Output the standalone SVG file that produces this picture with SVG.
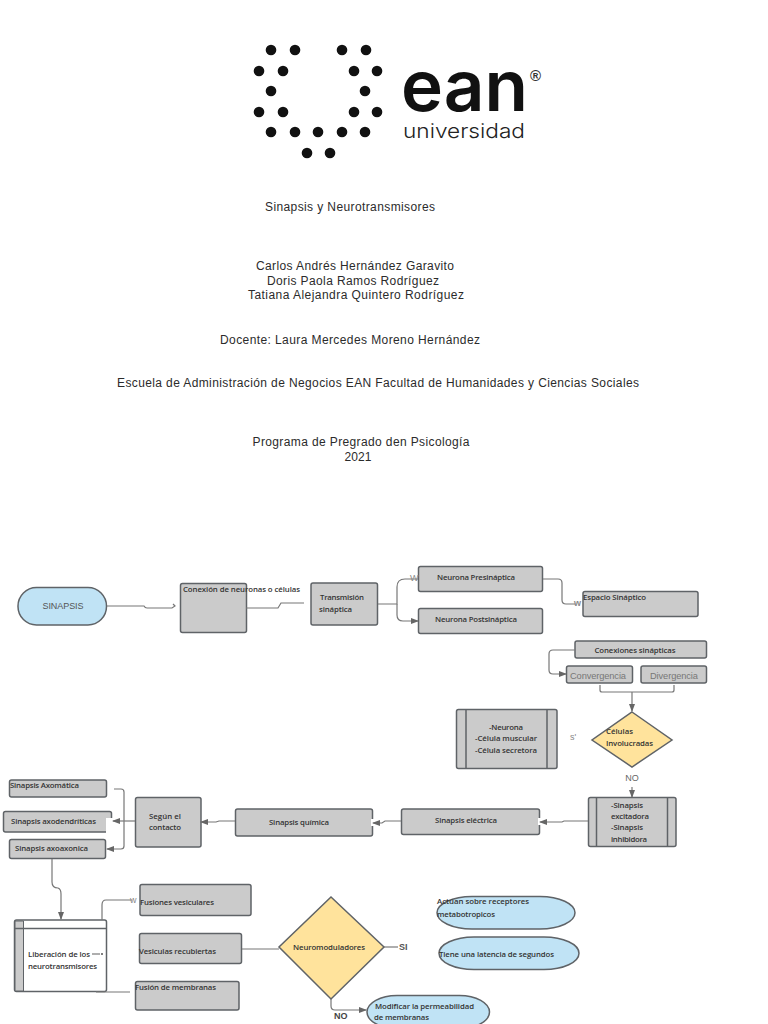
<svg xmlns="http://www.w3.org/2000/svg" width="768" height="1024" viewBox="0 0 768 1024">
<style>
text{font-family:"Liberation Sans",Arial,sans-serif}
.t{font-size:12px;fill:#2b2b2b;text-anchor:middle}
.l{font-size:7.800px;font-weight:600;fill:#333;font-family:"Open Sans","Liberation Sans",sans-serif}
.m{text-anchor:middle}
.n{fill:#cbcbcb;stroke:#5f6367;stroke-width:1.5}
.b{fill:#c0e3f5;stroke:#5f6367;stroke-width:1.5}
.y{fill:#ffe39c;stroke:#5f6367;stroke-width:1.5}
.w{fill:#fff;stroke:#5f6367;stroke-width:1.5}
.i{fill:none;stroke:#5f6367;stroke-width:1.5}
.c{fill:none;stroke:#777;stroke-width:1.2}
.f{font-size:9px;fill:#888}
</style>
<defs>
<marker id="a" markerWidth="8" markerHeight="6" refX="7" refY="3" orient="auto" markerUnits="userSpaceOnUse"><path d="M0 0L8 3L0 6Z" fill="#666"/></marker>
</defs>
<g id="logo" fill="#111">
<circle cx="271" cy="50" r="5.3"/><circle cx="295" cy="50" r="5.3"/><circle cx="342" cy="50" r="5.3"/><circle cx="366" cy="50" r="5.3"/>
<circle cx="259" cy="71" r="5.3"/><circle cx="283" cy="71" r="5.3"/><circle cx="354" cy="71" r="5.3"/><circle cx="377" cy="71" r="5.3"/>
<circle cx="271" cy="91" r="5.3"/><circle cx="365" cy="91" r="5.3"/>
<circle cx="259" cy="112" r="5.3"/><circle cx="283" cy="112" r="5.3"/><circle cx="354" cy="112" r="5.3"/><circle cx="377" cy="112" r="5.3"/>
<circle cx="271" cy="132" r="5.3"/><circle cx="295" cy="132" r="5.3"/><circle cx="318" cy="132" r="5.3"/><circle cx="342" cy="132" r="5.3"/><circle cx="365" cy="132" r="5.3"/>
<circle cx="307" cy="153" r="5.3"/><circle cx="330" cy="153" r="5.3"/>
<text x="401" y="111" font-size="70" font-weight="600" style="font-family:Inter,'Liberation Sans',sans-serif" textLength="127" lengthAdjust="spacingAndGlyphs">ean</text>
<text x="403" y="138" font-size="20" font-weight="300" fill="#222" style="font-family:Inter,'Liberation Sans',sans-serif" textLength="122" lengthAdjust="spacingAndGlyphs">universidad</text>
<text x="530" y="81" font-size="15" font-weight="bold" fill="#333">®</text>
</g>
<g id="titulos">
<text class="t" x="350" y="211" textLength="170">Sinapsis y Neurotransmisores</text>
<text class="t" x="355" y="270" textLength="198">Carlos Andrés Hernández Garavito</text>
<text class="t" x="353" y="285" textLength="172">Doris Paola Ramos Rodríguez</text>
<text class="t" x="356" y="299" textLength="216">Tatiana Alejandra Quintero Rodríguez</text>
<text class="t" x="350" y="344" textLength="260">Docente: Laura Mercedes Moreno Hernández</text>
<text class="t" x="378" y="387" textLength="522">Escuela de Administración de Negocios EAN Facultad de Humanidades y Ciencias Sociales</text>
<text class="t" x="361" y="446" textLength="217">Programa de Pregrado den Psicología</text>
<text class="t" x="358" y="461" textLength="27">2021</text>
</g>
<g id="sinapsis"><rect class="b" x="18" y="587.500" width="88.500" height="37.500" rx="18.500"/><text x="63" y="609" class="m" font-size="9" fill="#555" textLength="41">SINAPSIS</text></g>
<g id="conexion"><rect class="n" x="180.500" y="583.500" width="66" height="49" rx="2"/><text class="l" x="183" y="592" textLength="117">Conexión de neuronas o células</text></g>
<g id="transmision"><rect class="n" x="311" y="583" width="66.500" height="42" rx="2"/><text class="l" x="320" y="600" textLength="44">Transmisión</text><text class="l" x="319" y="612" textLength="33">sináptica</text></g>
<g id="presinaptica"><rect class="n" x="418.500" y="566.500" width="124" height="25" rx="2"/><text class="l m" x="476" y="580" textLength="78">Neurona Presináptica</text></g>
<g id="postsinaptica"><rect class="n" x="418.500" y="608.500" width="124" height="25" rx="2"/><text class="l m" x="476" y="622" textLength="82">Neurona Postsináptica</text></g>
<g id="espacio"><rect class="n" x="583" y="591.500" width="115" height="25" rx="2"/><text class="l" x="583" y="600" textLength="63">Espacio Sináptico</text></g>
<g id="conexiones"><rect class="n" x="575" y="641" width="131.500" height="17" rx="2"/><text class="l m" x="635" y="653" textLength="81">Conexiones sinápticas</text></g>
<g id="convergencia"><rect class="n" x="566.500" y="666" width="66" height="17" rx="2"/><text x="598" y="679" class="m" font-size="9.300" fill="#777" textLength="56">Convergencia</text></g>
<g id="divergencia"><rect class="n" x="641" y="666" width="65.500" height="17" rx="2"/><text x="674" y="679" class="m" font-size="9.300" fill="#777" textLength="48">Divergencia</text></g>
<g id="tipos-celula"><rect class="n" x="456.500" y="709.500" width="100.500" height="59" rx="2"/><path class="i" d="M466 710V768M547 710V768"/><text class="l m" x="506" y="730" textLength="34">-Neurona</text><text class="l m" x="506" y="741" textLength="62">-Célula muscular</text><text class="l m" x="506" y="753" textLength="62">-Célula secretora</text></g>
<g id="celulas"><path class="y" d="M632 712L672 740L632 767L592 740Z"/><text class="l" x="606" y="734" textLength="27">Células</text><text class="l" x="606" y="746" textLength="47">Involucradas</text></g>
<g id="excitadora"><rect class="n" x="588.500" y="797.500" width="87.500" height="49" rx="2"/><path class="i" d="M596.500 798V846M667.500 798V846"/><text class="l" x="611" y="808" textLength="32">-Sinapsis</text><text class="l" x="611" y="819" textLength="38">excitadora</text><text class="l" x="611" y="830" textLength="32">-Sinapsis</text><text class="l" x="611" y="842" textLength="36">inhibidora</text></g>
<g id="electrica"><rect class="n" x="401.500" y="809" width="138" height="25.500" rx="2"/><rect x="538" y="818" width="3" height="7" fill="#fff"/><text class="l m" x="466" y="823" textLength="62">Sinapsis eléctrica</text></g>
<g id="quimica"><rect class="n" x="235.500" y="809" width="137" height="27" rx="2"/><rect x="371" y="819" width="3" height="7" fill="#fff"/><text class="l m" x="299" y="825" textLength="60">Sinapsis química</text></g>
<g id="contacto"><rect class="n" x="135.500" y="797.500" width="65.500" height="49.500" rx="2"/><text class="l" x="149" y="819" textLength="32">Según el</text><text class="l" x="149" y="830" textLength="32">contacto</text></g>
<g id="axomatica"><rect class="n" x="9.500" y="780" width="97" height="17" rx="2"/><text class="l" x="10" y="788" textLength="69">Sinapsis Axomática</text></g>
<g id="axodendriticas"><rect class="n" x="3.500" y="811.500" width="108" height="20.500" rx="2"/><rect x="106" y="818" width="7" height="15" fill="#fff"/><text class="l" x="11" y="824" textLength="85">Sinapsis axodendríticas</text></g>
<g id="axoaxonica"><rect class="n" x="9.500" y="839.500" width="96" height="19" rx="2"/><text class="l" x="15" y="851" textLength="73">Sinapsis axoaxonica</text></g>
<g id="liberacion"><rect class="w" x="14.500" y="920" width="92" height="71.500" rx="2"/><path fill="#cbcbcb" stroke="#5f6367" d="M15 921H23.500V991H15Z"/><path class="i" d="M15 928.500H106"/><text class="l" x="28" y="957" textLength="62">Liberación de los</text><text class="l" x="28" y="969" textLength="69">neurotransmisores</text><circle cx="102" cy="954" r="1" fill="#555"/></g>
<g id="fusiones"><rect class="n" x="140" y="884.500" width="111" height="31" rx="2"/><text class="l" x="140" y="905" textLength="74">Fusiones vesiculares</text></g>
<g id="recubiertas"><rect class="n" x="139.500" y="933.500" width="102" height="30" rx="2"/><text class="l" x="139" y="954" textLength="77">Vesiculas recubiertas</text></g>
<g id="fusion"><rect class="n" x="135.500" y="981.500" width="103.500" height="28.500" rx="2"/><text class="l" x="135" y="990" textLength="81">Fusión de membranas</text></g>
<g id="neuromoduladores"><path class="y" d="M331 897L384 947L331 999L279 947Z"/><text class="l m" x="329" y="950" textLength="72">Neuromoduladores</text></g>
<g id="receptores"><rect class="b" x="437" y="896.500" width="138" height="32.500" rx="35" ry="16.250"/><text class="l" x="437" y="904" textLength="92">Actúan sobre receptores</text><text class="l" x="437" y="917" textLength="58">metabotropicos</text></g>
<g id="latencia"><rect class="b" x="439" y="937" width="140" height="32.500" rx="35" ry="16.250"/><text class="l" x="439" y="957" textLength="115">Tiene una latencia de segundos</text></g>
<g id="permeabilidad"><rect class="b" x="367" y="995.500" width="122.500" height="33" rx="30" ry="16.500"/><text class="l" x="375" y="1009" textLength="99">Modificar la permeabilidad</text><text class="l" x="374" y="1020" textLength="55">de membranas</text></g>
<g id="conectores">
<path class="c" d="M107 606H144Q145 608 147 608H172L175 606L173 604"/>
<path class="c" d="M246 608H278L281 603H304"/>
<path class="c" d="M378 604H397V587Q397 579 405 579H418"/>
<path class="c" d="M397 604V615Q397 621 403 621H418" marker-end="url(#a)"/>
<path class="c" d="M543 579H558Q562 579 562 583V600Q562 604 566 604H575"/>
<path class="c" d="M575 650H553Q549 650 549 654V670Q549 674 553 674H566" marker-end="url(#a)"/>
<path class="c" stroke-width="1" d="M600 685V690Q600 692 602 692H672Q674 692 674 690V685"/>
<path class="c" d="M632 692V711" marker-end="url(#a)"/>
<path class="c" d="M632 787V797" marker-end="url(#a)"/>
<path class="c" d="M588 821H564L562 822H540" marker-end="url(#a)"/>
<path class="c" d="M401 821H385L382 823H373" marker-end="url(#a)"/>
<path class="c" d="M235 821H219L216 822H201" marker-end="url(#a)"/>
<path class="c" d="M135 821H113" marker-end="url(#a)"/>
<path class="c" d="M114 789H121Q124 789 124 792V846Q124 849 121 849H107" marker-end="url(#a)"/>
<path class="c" d="M52 859V882Q52 888 58 888Q61 889 61 894V919" marker-end="url(#a)"/>
<path class="c" d="M102 920V905Q102 900 106 900H132"/>
<path class="c" d="M92 954H100"/>
<path class="c" d="M96 992H130"/>
<path class="c" d="M242 949H279"/>
<path class="c" d="M384 947H398"/>
<path class="c" d="M331 999V1006Q331 1010 335 1010H366" marker-end="url(#a)"/>
</g>
<g id="etiquetas">
<text class="f" x="410" y="581">W</text>
<text class="f" x="574" y="606" font-weight="bold">w</text>
<text class="f" x="570" y="740">s'</text>
<text x="632" y="781" class="m" font-size="9" fill="#666">NO</text>
<text class="f" x="130" y="903">w</text>
<text x="399" y="950" font-size="9" font-weight="bold" fill="#555">SI</text>
<text x="334" y="1019" font-size="9" font-weight="bold" fill="#444">NO</text>
</g>
</svg>
